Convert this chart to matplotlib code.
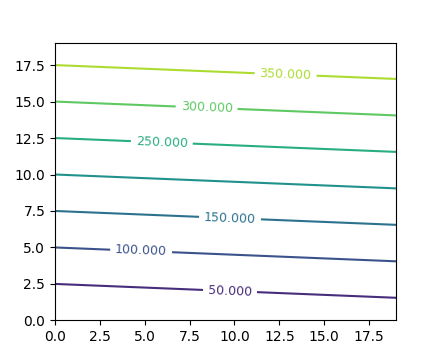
import numpy as np
import matplotlib
matplotlib.use("Agg")
import matplotlib.pyplot as plt

n_rows = 20
n_cols = 20
Z = np.arange(n_rows * n_cols).reshape(n_rows, n_cols)
label_levels = [50, 100, 150, 250, 300, 350]
label_x = [9.75, 4.8, 9.75, 5.95, 8.45, 12.85]
label_y = [2.0, 4.8, 7.0, 12.2, 14.6, 16.9]

fig, ax = plt.subplots(figsize=(4.4, 3.6), dpi=100)
cs = ax.contour(Z)
ax.clabel(cs, fmt='%1.3f', fontsize=9,
          manual=list(zip(label_x, label_y)))
fig.savefig("out.png", dpi=100)
